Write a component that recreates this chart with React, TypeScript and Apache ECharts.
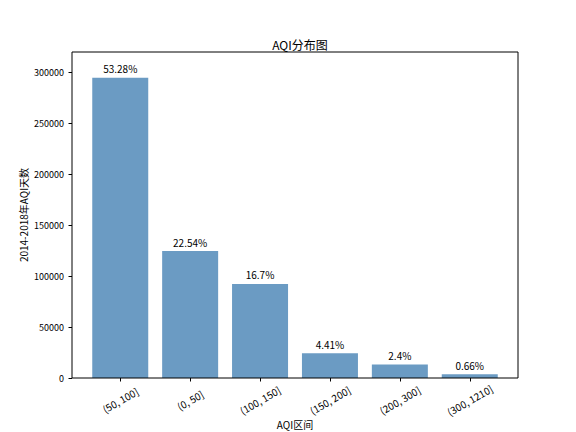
import React, { useEffect, useRef } from "react";
import * as echarts from "echarts";

const categories = ["(50, 100]", "(0, 50]", "(100, 150]", "(150, 200]", "(200, 300]", "(300, 1210]"];
const counts = [294640, 124650, 92350, 24390, 13270, 3650];
const percents = ["53.28%", "22.54%", "16.7%", "4.41%", "2.4%", "0.66%"];
const yTicksMax = 320000;
const yInterval = 50000;

const FONT = "'Noto Sans CJK SC', 'DejaVu Sans', sans-serif";

export default function App() {
  const ref = useRef<HTMLDivElement>(null);
  useEffect(() => {
    if (!ref.current) return;
    const chart = echarts.init(ref.current, null, { renderer: "svg" });
    chart.setOption({
      animation: false,
      textStyle: { fontFamily: FONT },
      title: {
        text: "AQI分布图",
        left: 295,
        top: 33,
        textAlign: "center",
        textStyle: { fontSize: 12, fontWeight: "normal", color: "#000", fontFamily: FONT },
      },
      grid: { left: 85.3, right: 71.3, top: 52, bottom: 54, containLabel: false, outerBoundsMode: "none" },
      xAxis: {
        type: "category",
        data: categories,
        name: "AQI区间",
        nameLocation: "middle",
        nameGap: 41,
        nameMoveOverlap: false,
        nameTextStyle: { fontSize: 10, color: "#000", verticalAlign: "top", fontFamily: FONT },
        axisLine: { show: false },
        axisTick: { show: true, alignWithLabel: true, length: 3.5, lineStyle: { color: "#000" } },
        axisLabel: {
          rotate: 30,
          align: "center",
          verticalAlign: "middle",
          margin: 22,
          fontSize: 10,
          color: "#000",
          fontFamily: FONT,
        },
      },
      yAxis: {
        type: "value",
        min: 0,
        max: yTicksMax,
        interval: yInterval,
        offset: 13.3,
        name: "2014-2018年AQI天数",
        nameLocation: "middle",
        nameGap: 44,
        nameMoveOverlap: false,
        nameRotate: 90,
        nameTextStyle: { fontSize: 10, color: "#000", fontFamily: FONT },
        splitLine: { show: false },
        axisLine: { show: false },
        axisTick: { show: true, length: 3.5, lineStyle: { color: "#000" } },
        axisLabel: {
          fontSize: 9,
          color: "#000",
          margin: 8,
          showMaxLabel: false,
          fontFamily: FONT,
          formatter: (v: number) => String(v),
        },
      },
      graphic: [
        {
          type: "rect",
          shape: { x: 72, y: 52, width: 446, height: 326 },
          style: { fill: "none", stroke: "#000", lineWidth: 1 },
          z: 100,
          silent: true,
        },
      ],
      series: [
        {
          type: "bar",
          data: counts,
          barWidth: 56,
          itemStyle: { color: "#6b9bc3" },
          label: {
            show: true,
            position: "top",
            distance: 4,
            fontSize: 10,
            color: "#000",
            fontFamily: FONT,
            formatter: (p: any) => percents[p.dataIndex],
          },
        },
      ],
    });
    return () => chart.dispose();
  }, []);
  return (
    <div
      ref={ref}
      style={{ position: "fixed", left: 0, top: 0, width: 576, height: 432, background: "#fff" }}
    />
  );
}
